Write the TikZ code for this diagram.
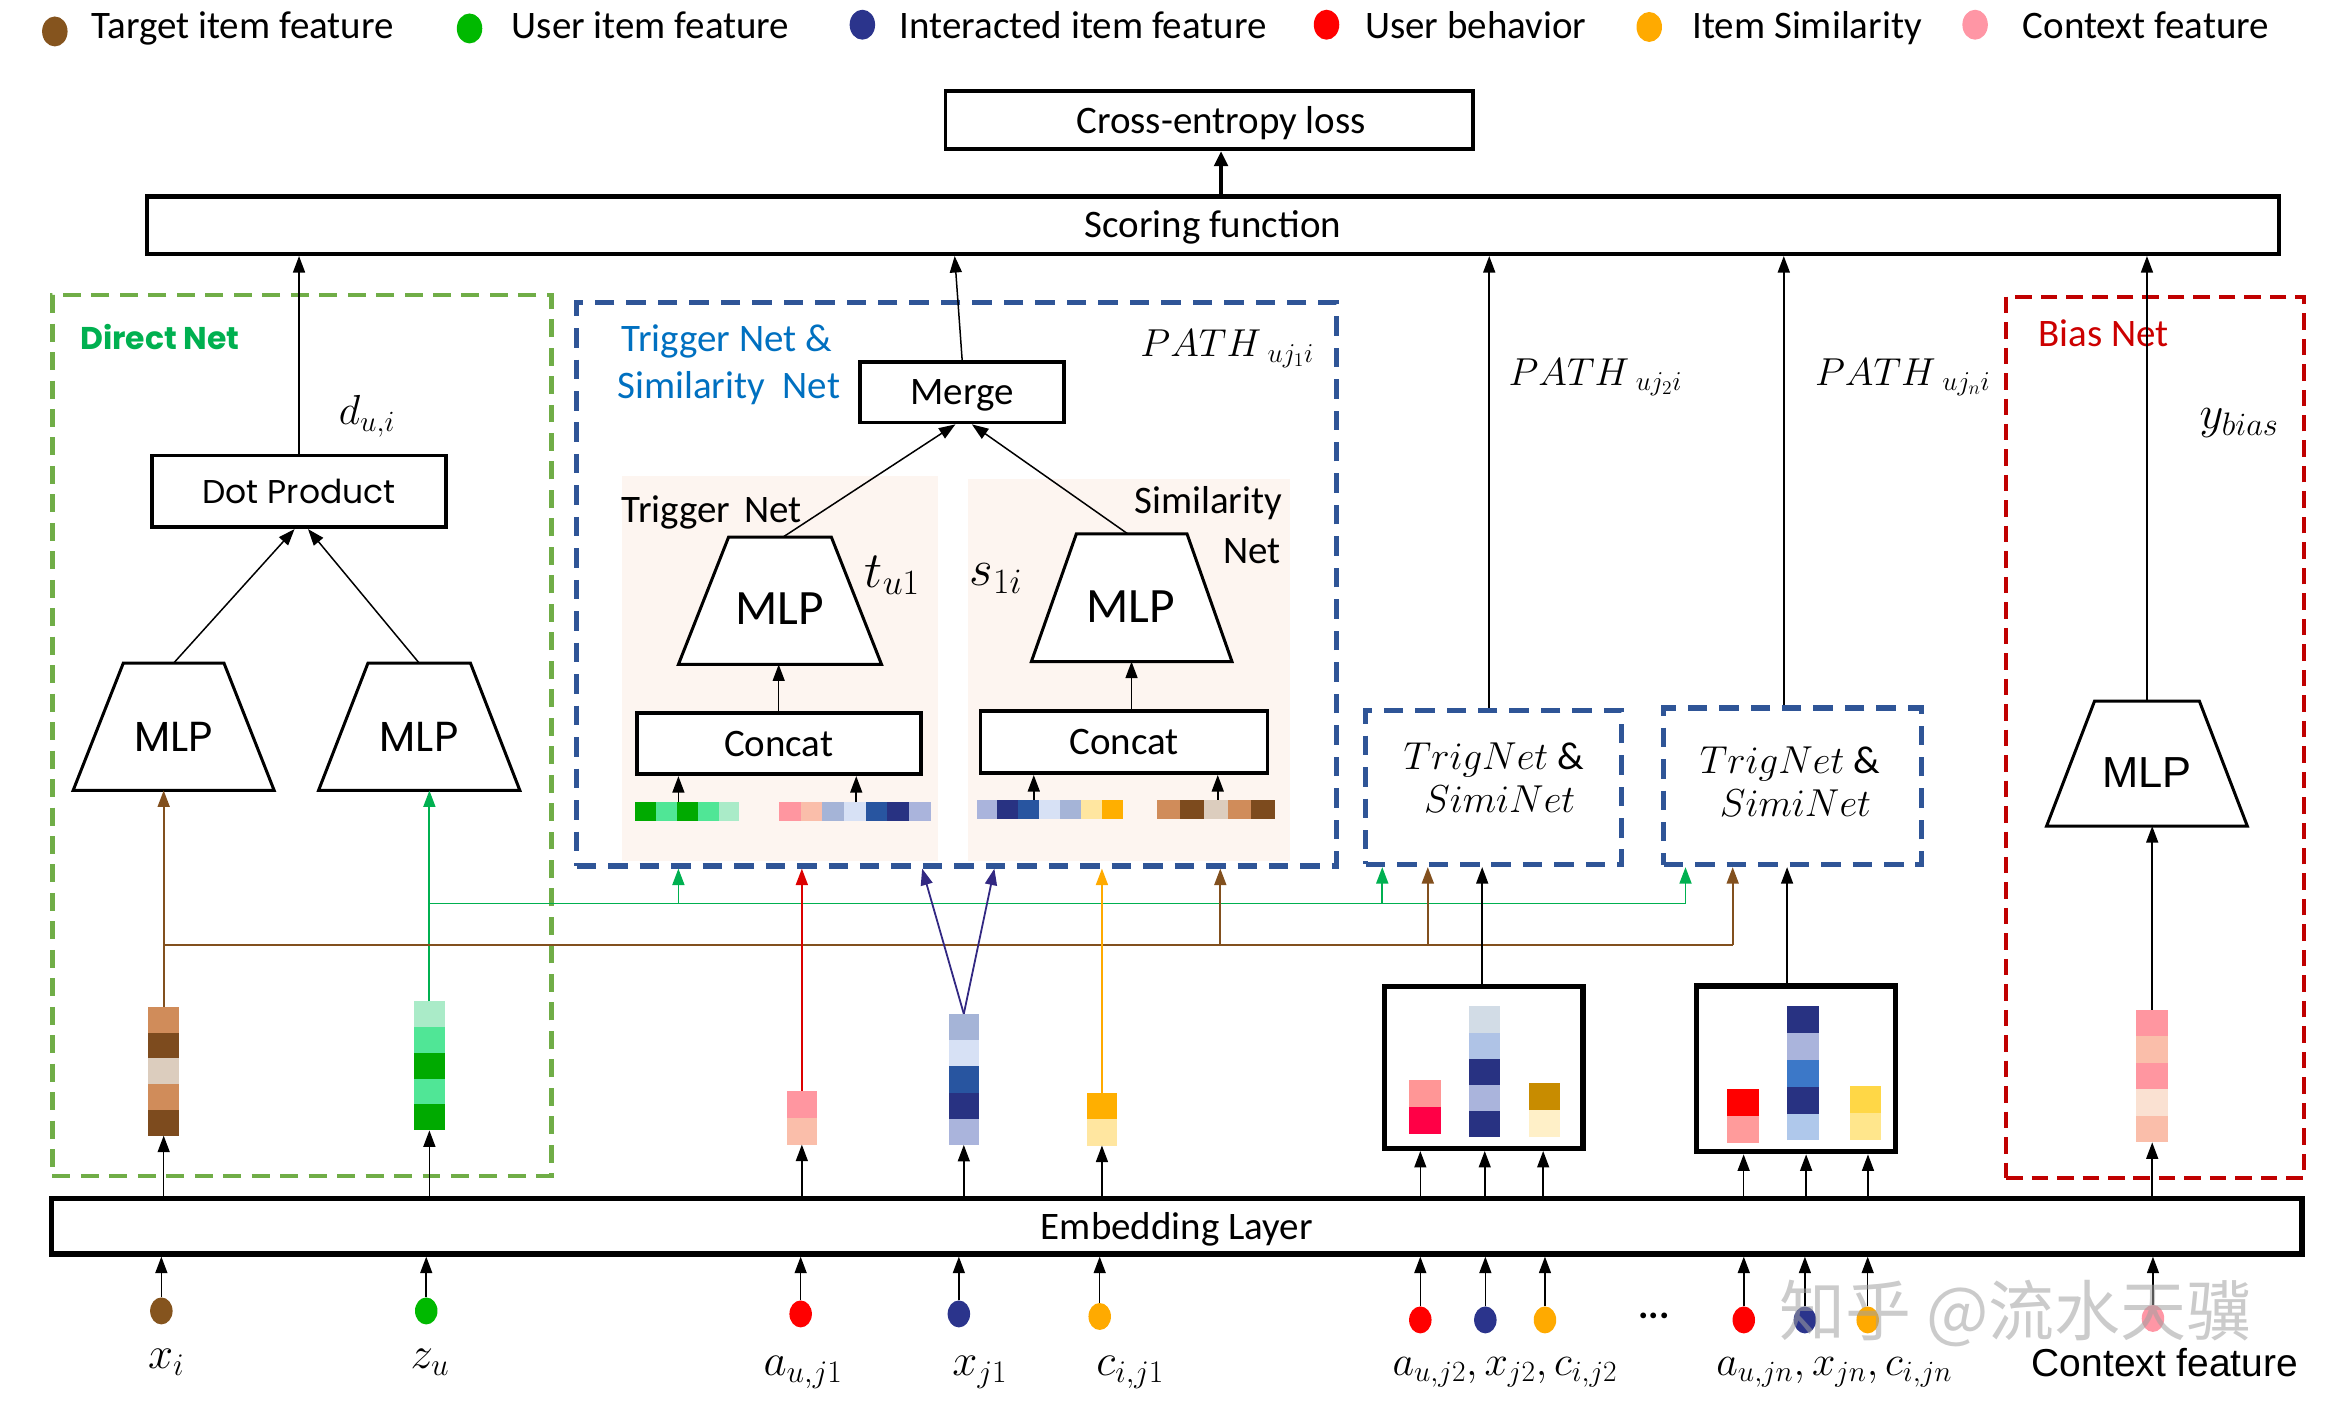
\RequirePackage{fix-cm}
\documentclass[tikz,border=0pt]{standalone}
\usepackage{fontspec}
\setmainfont{Carlito}
\newfontfamily\gothic{Poppins}
\newfontfamily\arialf{Liberation Sans}
\newfontfamily\cjkf{Noto Sans CJK SC}
\usetikzlibrary{arrows.meta,calc,shapes.geometric}

\definecolor{ctan}{RGB}{208,140,90}
\definecolor{cbrown}{RGB}{125,75,30}
\definecolor{cbeige}{RGB}{220,205,190}
\definecolor{gpale}{RGB}{170,235,200}
\definecolor{gmint}{RGB}{80,230,150}
\definecolor{ggreen}{RGB}{0,170,0}
\definecolor{pk}{RGB}{255,150,160}
\definecolor{pch}{RGB}{250,190,170}
\definecolor{pcream}{RGB}{250,225,210}
\definecolor{lb}{RGB}{165,180,215}
\definecolor{vlb}{RGB}{215,225,245}
\definecolor{bl}{RGB}{40,85,160}
\definecolor{nv}{RGB}{40,50,130}
\definecolor{lav}{RGB}{170,180,220}
\definecolor{ylp}{RGB}{255,230,160}
\definecolor{org}{RGB}{255,175,0}
\definecolor{fpk}{RGB}{255,150,150}
\definecolor{fcrim}{RGB}{255,0,70}
\definecolor{fgray}{RGB}{210,220,230}
\definecolor{fsky}{RGB}{175,195,230}
\definecolor{fgold}{RGB}{200,140,0}
\definecolor{fcream}{RGB}{255,240,200}
\definecolor{fred}{RGB}{255,0,0}
\definecolor{fpk2}{RGB}{255,155,155}
\definecolor{fmid}{RGB}{60,120,200}
\definecolor{fsky2}{RGB}{175,200,235}
\definecolor{fyel}{RGB}{255,215,70}
\definecolor{fyel2}{RGB}{255,230,140}
\definecolor{dnGreen}{RGB}{112,173,71}
\definecolor{dnText}{RGB}{0,176,80}
\definecolor{tsBlue}{RGB}{47,85,151}
\definecolor{tsText}{RGB}{0,112,192}
\definecolor{bnRed}{RGB}{192,0,0}
\definecolor{bnText}{RGB}{204,0,0}
\definecolor{panel}{RGB}{253,245,240}
\definecolor{lnGreen}{RGB}{0,176,80}
\definecolor{lnBrown}{RGB}{130,80,30}
\definecolor{lnRed}{RGB}{220,0,0}
\definecolor{lnNavy}{RGB}{50,40,130}
\definecolor{lnOrange}{RGB}{255,170,0}
\definecolor{dBrown}{RGB}{133,84,30}
\definecolor{dGreen}{RGB}{0,185,0}
\definecolor{dNavy}{RGB}{43,52,140}
\definecolor{dRed}{RGB}{255,0,0}
\definecolor{dOrange}{RGB}{255,170,0}
\definecolor{dPink}{RGB}{255,150,165}
\definecolor{wm}{RGB}{160,160,160}

% trapezoid outline around a holder node: name, top inset
\newcommand\trapdraw[2]{\draw[trapline] (#1.south west) -- (#1.south east) -- ($(#1.north east)+(-#2,0)$) -- ($(#1.north west)+(#2,0)$) -- cycle;}
% vertical stack: name, cx, ytop, w, cellh, n, colours
\newcommand\vecstack[7]{%
  \node[holder, minimum width=#4pt, minimum height=#5*#6pt, anchor=north] (#1) at (#2,#3) {};
  \foreach \cc [count=\k from 0] in {#7} {\fill[\cc] ({#2-#4/2},{#3+\k*#5}) rectangle ({#2+#4/2},{#3+(\k+1)*#5});}%
}
% horizontal strip: name, xleft, ytop, cellw, h, n, colours
\newcommand\hstrip[7]{%
  \node[holder, minimum width=#4*#6pt, minimum height=#5pt, anchor=north west] (#1) at (#2,#3) {};
  \foreach \cc [count=\k from 0] in {#7} {\fill[\cc] ({#2+\k*#4},#3) rectangle ({#2+(\k+1)*#4},{#3+#5});}%
}

\tikzset{
  holder/.style={inner sep=0pt, outer sep=0pt},
  box/.style={draw, line width=2.5pt, inner sep=0pt, fill=white, font=\fontsize{26}{31}\selectfont, text height=17pt, text depth=0pt},
  trapline/.style={draw, line width=2pt, line join=miter, fill=white},
  tip/.style={-{Triangle[length=11pt,width=8pt]}},
  thinarrow/.style={tip, line width=1pt, draw=black},
  thickarrow/.style={-{Triangle[length=10pt,width=9pt]}, line width=2.5pt},
  grline/.style={line width=1.2pt, draw=lnGreen},
  brline/.style={line width=1.2pt, draw=lnBrown},
  grarrow/.style={tip, grline},
  brarrow/.style={tip, brline},
  rdarrow/.style={tip, line width=1.2pt, draw=lnRed},
  nvarrow/.style={tip, line width=1.2pt, draw=lnNavy},
  orarrow/.style={tip, line width=1.2pt, draw=lnOrange},
  dot/.style={ellipse, inner sep=0pt, minimum width=15pt, minimum height=18pt},
  legdot/.style={dot, minimum width=17pt, minimum height=20pt},
  legtext/.style={anchor=base west, inner sep=0pt, font=\fontsize{26}{31}\selectfont},
  txt/.style={anchor=base west, inner sep=0pt, font=\fontsize{26}{31}\selectfont},
  lbl/.style={anchor=base, inner sep=0pt, font=\fontsize{30}{36}\selectfont},
  mathlbl/.style={anchor=base west, inner sep=0pt, font=\fontsize{26}{31}\selectfont},
  dashbox/.style={draw, inner sep=0pt, line width=3pt, dash pattern=on 13pt off 8pt},
  panelbox/.style={fill=panel, inner sep=0pt},
}

\begin{document}
\begin{tikzpicture}[x=1pt,y=-1pt]
\useasboundingbox (0,0) rectangle (1567.2,938.5);

% ---------------- legend
\node[legdot, fill=dBrown] (lgd1) at (36.6,21) {};
\node[legtext] (lgt1) at (61,26) {Target item feature};
\node[legdot, fill=dGreen] (lgd2) at (313.4,19) {};
\node[legtext] (lgt2) at (341.4,26) {User item feature};
\node[legdot, fill=dNavy] (lgd3) at (575.6,16.5) {};
\node[legtext] (lgt3) at (600.5,26) {Interacted item feature};
\node[legdot, fill=dRed] (lgd4) at (885.4,16.5) {};
\node[legtext] (lgt4) at (911,26) {User behavior};
\node[legdot, fill=dOrange] (lgd5) at (1100.8,18) {};
\node[legtext] (lgt5) at (1129.4,26) {Item Similarity};
\node[legdot, fill=dPink] (lgd6) at (1318.3,16.5) {};
\node[legtext] (lgt6) at (1350,26) {Context feature};

% ---------------- top boxes
\node[box, minimum width=352pt, minimum height=38.7pt] (ce) at (807,80.3) {\hspace{16pt}Cross-entropy loss};
\node[box, line width=3pt, minimum width=1423pt, minimum height=38.4pt] (sc) at (809.5,150.2) {Scoring function};
\node[box, line width=3.5pt, minimum width=1502pt, minimum height=37pt] (emb) at (785.5,818.5) {Embedding Layer};

% ---------------- dashed groups and panels
\node[dashbox, draw=dnGreen, dash pattern=on 12pt off 7pt, minimum width=333pt, minimum height=588pt] (dn) at (201.5,491) {};
\node[panelbox, minimum width=211pt, minimum height=257pt] (pT) at (520.5,446.5) {};
\node[panelbox, minimum width=215pt, minimum height=255pt] (pS) at (753.5,447.5) {};
\node[dashbox, draw=tsBlue, line width=3.5pt, minimum width=507pt, minimum height=376pt] (tsn) at (638.5,390) {};
\node[dashbox, draw=tsBlue, line width=3.5pt, minimum width=171pt, minimum height=103pt] (tn1) at (997,525.5) {};
\node[dashbox, draw=tsBlue, line width=3.5pt, minimum width=172.2pt, minimum height=104.5pt] (tn2) at (1196.6,524.8) {};
\node[dashbox, draw=bnRed, line width=2.8pt, dash pattern=on 11pt off 6pt, minimum width=199pt, minimum height=588pt] (bn) at (1438.5,492) {};

% group labels
\node[txt, font=\gothic\bfseries\fontsize{21}{26}\selectfont, text=dnText] (dnl) at (53.4,233) {Direct Net};
\node[txt, text=tsText] (tsl1) at (414.8,234.5) {Trigger Net \&};
\node[txt, text=tsText] (tsl2) at (412,266) {Similarity\hspace{0.45em}Net};
\node[txt, text=bnText] (bnl) at (1360.5,231) {Bias Net};
\node[txt] (trl) at (414.8,348.5) {Trigger\hspace{0.35em}Net};
\node[txt, anchor=base east] (sil1) at (856,343) {Similarity};
\node[txt, anchor=base east] (sil2) at (855,376) {Net};

% math labels
\node[mathlbl] (p1) at (761,238) {$PATH\,{}_{uj_1i}$};
\node[mathlbl] (p2) at (1006.7,257) {$PATH\,{}_{uj_2i}$};
\node[mathlbl] (p3) at (1211.3,257) {$PATH\,{}_{uj_ni}$};
\node[mathlbl, font=\fontsize{31}{37}\selectfont] (ybl) at (1468,286) {$y_{bias}$};
\node[mathlbl, font=\fontsize{34}{40}\selectfont] (tul) at (577,392) {$t_{u1}$};
\node[mathlbl, font=\fontsize{34}{40}\selectfont] (sil) at (647,391) {$s_{1i}$};
\node[mathlbl, font=\fontsize{28}{34}\selectfont] (dul) at (226,283.5) {$d_{u,i}$};

% ---------------- direct net
\node[box, font=\gothic\fontsize{22}{26}\selectfont, text height=15.5pt, minimum width=195.8pt, minimum height=47.8pt] (dp) at (199.6,328) {Dot Product};
\node[holder, minimum width=134.2pt, minimum height=85pt] (mA) at (115.9,485.1) {};
\trapdraw{mA}{33.5}
\node[holder, font=\gothic\fontsize{28}{34}\selectfont, text height=19.5pt, text depth=0pt] (mAt) at (115.7,492) {MLP};
\node[holder, minimum width=134.4pt, minimum height=85pt] (mB) at (279.8,485.1) {};
\trapdraw{mB}{33}
\node[holder, font=\gothic\fontsize{28}{34}\selectfont, text height=19.5pt, text depth=0pt] (mBt) at (279.7,492) {MLP};

\vecstack{vB}{109.25}{672}{20.5}{17.2}{5}{ctan,cbrown,cbeige,ctan,cbrown}
\vecstack{vZ}{286.6}{668}{20.4}{17.3}{5}{gpale,gmint,ggreen,gmint,ggreen}

% ---------------- trigger & similarity net
\node[box, minimum width=136.4pt, minimum height=40.4pt] (mg) at (642.2,261.8) {Merge};
\node[holder, minimum width=135.6pt, minimum height=85pt] (mT) at (520.6,401) {};
\trapdraw{mT}{33.5}
\node[holder, font=\fontsize{33}{40}\selectfont, text height=21.3pt, text depth=0pt] (mTt) at (520.6,406.5) {MLP};
\node[holder, minimum width=133.9pt, minimum height=85.2pt] (mS) at (755.35,399) {};
\trapdraw{mS}{30}
\node[holder, font=\fontsize{33}{40}\selectfont, text height=21.3pt, text depth=0pt] (mSt) at (754.5,405) {MLP};
\node[box, minimum width=189.5pt, minimum height=40.8pt] (ctT) at (519.75,496.4) {Concat};
\node[box, minimum width=191.5pt, minimum height=41.7pt] (ctS) at (750.25,495.2) {Concat};

\hstrip{stA}{424}{535.3}{13.9}{12.4}{5}{ggreen,gmint,ggreen,gmint,gpale}
\hstrip{stB}{520}{535.3}{14.47}{12.4}{7}{pk,pch,lb,vlb,bl,nv,lav}
\hstrip{stC}{651.8}{533.7}{13.94}{12.7}{7}{lav,nv,bl,vlb,lb,ylp,org}
\hstrip{stD}{772}{533.7}{15.8}{12.7}{5}{ctan,cbrown,cbeige,ctan,cbrown}

\vecstack{vA}{535.2}{728}{20}{18}{2}{pk,pch}
\vecstack{vX}{643.3}{676.7}{20.4}{17.5}{5}{lb,vlb,bl,nv,lav}
\vecstack{vC}{735.5}{729.6}{20}{17.5}{2}{org,ylp}

% ---------------- trignet boxes
\node[mathlbl, anchor=base] (tn1a) at (997,513.6) {$TrigNet\ \&$};
\node[mathlbl, anchor=base] (tn1b) at (1001,542.6) {$SimiNet$};
\node[mathlbl, anchor=base] (tn2a) at (1194.6,516) {$TrigNet\ \&$};
\node[mathlbl, anchor=base] (tn2b) at (1198.4,545) {$SimiNet$};

\node[box, line width=3.5pt, minimum width=132.5pt, minimum height=108.2pt] (fb1) at (990.3,712.4) {};
\node[box, line width=3.5pt, minimum width=132.5pt, minimum height=110.7pt] (fb2) at (1198.8,713.4) {};
\vecstack{fb1a}{951}{721}{21}{18}{2}{fpk,fcrim}
\vecstack{fb1b}{990.9}{671.7}{21}{17.5}{5}{fgray,fsky,nv,lav,nv}
\vecstack{fb1c}{1030.8}{723}{21}{18}{2}{fgold,fcream}
\vecstack{fb2a}{1163.5}{726.8}{21}{18}{2}{fred,fpk2}
\vecstack{fb2b}{1203.5}{671.7}{21}{17.9}{5}{nv,lav,fmid,nv,fsky2}
\vecstack{fb2c}{1245}{725}{21}{18}{2}{fyel,fyel2}

% ---------------- bias net
\node[holder, minimum width=134pt, minimum height=83.4pt] (mBias) at (1433,509.7) {};
\trapdraw{mBias}{32}
\node[holder, font=\arialf\fontsize{29}{35}\selectfont, text height=20.8pt, text depth=0pt] (mBiast) at (1433,515) {MLP};
\vecstack{vP}{1436.5}{674}{21}{17.7}{5}{pk,pch,pk,pcream,pch}

% ---------------- connectors to scoring / loss
\draw[thickarrow] ($(sc.north)+(5.5,0)$) -- ($(ce.south)+(8,0)$);
\draw[thinarrow] (dp.north) -- (dp.north |- sc.south);
\draw[thinarrow] (mg.north) -- ($(mg.north |- sc.south)+(-5,0)$);
\draw[thinarrow] ($(tn1.north)+(-3,0)$) -- ($(tn1.north |- sc.south)+(-3,0)$);
\draw[thinarrow] ($(tn2.north)+(-6,0)$) -- ($(tn2.north |- sc.south)+(-6,0)$);
\draw[thinarrow] (mBias.north) -- (mBias.north |- sc.south);

% direct net internals
\draw[thinarrow] (mA.north) -- ($(dp.south)+(-3,0)$);
\draw[thinarrow] (mB.north) -- ($(dp.south)+(6,0)$);
\draw[brarrow] (vB.north) -- (vB.north |- mA.south);
\draw[grarrow] (vZ.north) -- (vZ.north |- mB.south);

% trigger / similarity internals
\draw[thinarrow] ($(mT.north)+(2,0)$) -- ($(mg.south)+(-4.5,0)$);
\draw[thinarrow] ($(mS.north)+(-2.5,0)$) -- ($(mg.south)+(6.5,0)$);
\draw[thinarrow] (ctT.north) -- (ctT.north |- mT.south);
\draw[thinarrow] ($(ctS.north)+(5,0)$) -- ($(ctS.north |- mS.south)+(5,0)$);
\draw[thinarrow] ($(stA.north west)+(28.8,0)$) -- ($(stA.north west |- ctT.south)+(28.8,0)$);
\draw[thinarrow] ($(stB.north west)+(51.5,0)$) -- ($(stB.north west |- ctT.south)+(51.5,0)$);
\draw[thinarrow] ($(stC.north west)+(38.2,0)$) -- ($(stC.north west |- ctS.south)+(38.2,0)$);
\draw[thinarrow] ($(stD.north west)+(40.8,0)$) -- ($(stD.north west |- ctS.south)+(40.8,0)$);

% shared green / brown buses
\coordinate (gL) at (286.6,603);
\coordinate (g1) at (452.8,603);
\coordinate (g2) at (922.6,603);
\coordinate (gR) at (1125,603);
\coordinate (bL) at (109.25,631);
\coordinate (b1) at (814.5,631);
\coordinate (b2) at (953,631);
\coordinate (bR) at (1156.5,631);
\draw[grline] (gL) -- (gR);
\draw[brline] (bL) -- (bR);
\draw[grarrow] (g1) -- (g1 |- tsn.south);
\draw[grarrow] (g2) -- (g2 |- tn1.south);
\draw[grarrow] (gR) -- (gR |- tn2.south);
\draw[brarrow] (b1) -- (b1 |- tsn.south);
\draw[brarrow] (b2) -- (b2 |- tn1.south);
\draw[brarrow] (bR) -- (bR |- tn2.south);

\draw[rdarrow] (vA.north) -- (vA.north |- tsn.south);
\draw[nvarrow] (vX.north) -- ($(tsn.south)+(-23,0)$);
\draw[nvarrow] (vX.north) -- ($(tsn.south)+(25.2,0)$);
\draw[orarrow] (vC.north) -- (vC.north |- tsn.south);

\draw[thinarrow] ($(fb1.north)+(-1,0)$) -- ($(fb1.north |- tn1.south)+(-1,0)$);
\draw[thinarrow] ($(fb2.north)+(-6,0)$) -- ($(fb2.north |- tn2.south)+(-6,0)$);
\draw[thinarrow] (vP.north) -- (vP.north |- mBias.south);

% embedding -> vectors
\foreach \v in {vB,vZ,vA,vX,vC,vP} {\draw[thinarrow] (\v.south |- emb.north) -- (\v.south);}
\foreach \o in {-42.3,0.7,39.7} {\draw[thinarrow] ($(emb.north -| fb1.south)+(\o,0)$) -- ($(fb1.south)+(\o,0)$);}
\foreach \o in {-35,6.7,48} {\draw[thinarrow] ($(emb.north -| fb2.south)+(\o,0)$) -- ($(fb2.south)+(\o,0)$);}

% ---------------- inputs
\node[dot, fill=dBrown] (ixi) at (107.7,875) {};
\node[dot, fill=dGreen] (izu) at (284.5,875) {};
\node[dot, fill=dRed] (ia1) at (534.4,877) {};
\node[dot, fill=dNavy] (ix1) at (640,877) {};
\node[dot, fill=dOrange] (ic1) at (734,878.7) {};
\node[dot, fill=dRed] (ia2) at (948,881) {};
\node[dot, fill=dNavy] (ix2) at (991.4,881) {};
\node[dot, fill=dOrange] (ic2) at (1031.2,881) {};
\node[dot, fill=dRed] (ian) at (1163.9,881) {};
\node[dot, fill=dNavy] (ixn) at (1204.7,881) {};
\node[dot, fill=dOrange] (icn) at (1246.6,881) {};
\node[dot, fill=dPink] (ictx) at (1437,880) {};
\foreach \d in {ixi,izu,ia1,ix1,ic1,ia2,ix2,ic2,ian,ixn,icn,ictx} {\draw[thinarrow] (\d.north) -- (\d.north |- emb.south);}

\node[lbl] (lxi) at (111,913.5) {$x_i$};
\node[lbl] (lzu) at (287,913.5) {$z_u$};
\node[lbl] (la1) at (536,918) {$a_{u,j1}$};
\node[lbl] (lx1) at (654,918) {$x_{j1}$};
\node[lbl] (lc1) at (754.4,918) {$c_{i,j1}$};
\node[lbl, font=\fontsize{28}{34}\selectfont] (lg2) at (1004.5,918) {$a_{u,j2},x_{j2},c_{i,j2}$};
\node[lbl, font=\fontsize{28}{34}\selectfont] (lgn) at (1224.3,918) {$a_{u,jn},x_{jn},c_{i,jn}$};
\node[txt, anchor=base, font=\bfseries\fontsize{26}{31}\selectfont] (ldots) at (1104,880) {...};
\node[txt, anchor=base, font=\arialf\fontsize{26}{31}\selectfont] (lctx) at (1445,919) {Context feature};

% watermark
\node[holder, anchor=west, font=\cjkf\fontsize{44}{52}\selectfont, text=wm, opacity=0.55] (wmk) at (1188,877) {知乎 @流水天骥};
\end{tikzpicture}
\end{document}
